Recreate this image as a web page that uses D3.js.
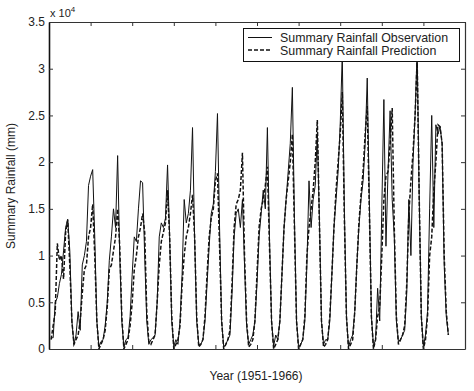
<!DOCTYPE html>
<html>
<head>
<meta charset="utf-8">
<style>
  body { margin: 0; background: #fff; }
  text { font-family: "Liberation Sans", Arial, sans-serif; fill: #222; }
</style>
</head>
<body>
<svg width="474" height="391"></svg>
<script src="https://d3js.org/d3.v7.min.js"></script>
<script>
// monthly values, units of 10^4 mm, Jan 1951 .. Dec 1966 (one row per year)
var observed = [
  0.12, 0.12, 0.50, 0.55, 0.70, 0.80, 1.05, 1.30, 1.39, 1.05, 0.30, 0.05,
  0.15, 0.40, 0.20, 0.90, 1.00, 1.15, 1.75, 1.85, 1.92, 1.20, 0.30, 0.02,
  0.08, 0.10, 0.25, 0.50, 0.95, 1.20, 1.50, 1.30, 2.07, 1.00, 0.30, 0.02,
  0.10, 0.12, 0.35, 0.80, 1.20, 1.15, 1.50, 1.80, 1.78, 1.00, 0.30, 0.05,
  0.10, 0.12, 0.15, 0.50, 1.20, 1.35, 1.30, 1.40, 1.97, 1.20, 0.30, 0.03,
  0.10, 0.05, 0.30, 0.80, 1.60, 1.35, 1.45, 1.70, 2.37, 1.20, 0.30, 0.05,
  0.05, 0.10, 0.30, 0.70, 1.10, 1.45, 1.55, 1.90, 2.52, 1.30, 0.30, 0.02,
  0.05, 0.10, 0.15, 0.60, 1.20, 1.45, 1.50, 1.30, 1.60, 0.90, 0.25, 0.05,
  0.10, 0.15, 0.30, 0.70, 1.20, 1.45, 1.70, 1.50, 2.37, 1.20, 0.30, 0.03,
  0.15, 0.10, 0.30, 0.80, 1.30, 1.60, 1.90, 2.20, 2.80, 1.40, 0.30, 0.02,
  0.05, 0.10, 0.30, 0.90, 1.80, 1.30, 1.60, 1.75, 2.30, 1.40, 0.30, 0.05,
  0.10, 0.10, 0.30, 0.80, 1.30, 1.60, 1.90, 2.40, 3.15, 1.50, 0.35, 0.02,
  0.10, 0.15, 0.40, 0.90, 1.30, 1.60, 1.80, 2.20, 2.90, 1.60, 0.35, 0.03,
  0.10, 0.65, 0.30, 1.50, 2.67, 1.10, 1.90, 2.55, 1.60, 1.20, 0.30, 0.08,
  0.10, 0.15, 0.20, 0.60, 1.60, 1.00, 2.00, 2.50, 3.20, 1.60, 0.35, 0.02,
  0.15, 0.40, 1.50, 2.50, 1.30, 2.40, 2.30, 2.38, 2.20, 0.90, 0.35, 0.15
];
var predicted = [
  0.10, 0.25, 0.40, 1.13, 0.95, 1.00, 0.75, 1.25, 1.38, 0.90, 0.30, 0.05,
  0.10, 0.15, 0.30, 0.60, 0.85, 0.90, 1.20, 1.30, 1.55, 1.00, 0.30, 0.00,
  0.05, 0.10, 0.20, 0.45, 0.85, 0.90, 1.05, 1.20, 1.50, 1.10, 0.35, 0.00,
  0.05, 0.10, 0.25, 0.50, 0.85, 1.00, 1.20, 1.30, 1.45, 1.25, 0.40, 0.08,
  0.05, 0.10, 0.15, 0.50, 0.90, 1.15, 1.25, 1.35, 1.70, 1.20, 0.35, 0.00,
  0.05, 0.10, 0.25, 0.70, 1.00, 1.20, 1.30, 1.45, 1.65, 1.20, 0.35, 0.02,
  0.05, 0.10, 0.35, 0.80, 1.20, 1.40, 1.50, 1.80, 1.88, 1.10, 0.30, 0.00,
  0.05, 0.10, 0.20, 0.70, 1.30, 1.55, 1.60, 1.70, 2.10, 1.00, 0.30, 0.02,
  0.05, 0.10, 0.30, 0.80, 1.30, 1.50, 1.60, 1.75, 1.95, 1.10, 0.30, 0.00,
  0.05, 0.10, 0.30, 0.80, 1.30, 1.60, 1.80, 2.00, 2.30, 1.30, 0.30, 0.00,
  0.05, 0.10, 0.35, 1.00, 1.30, 1.50, 1.70, 2.00, 2.45, 1.35, 0.30, 0.02,
  0.05, 0.10, 0.35, 0.80, 1.30, 1.70, 2.00, 2.30, 2.75, 1.40, 0.35, 0.00,
  0.05, 0.10, 0.40, 0.90, 1.35, 1.65, 1.90, 2.30, 2.60, 1.50, 0.35, 0.00,
  0.10, 0.35, 0.45, 1.00, 1.60, 1.85, 1.90, 2.20, 2.58, 1.30, 0.35, 0.05,
  0.10, 0.15, 0.25, 0.70, 1.45, 1.80, 2.10, 2.50, 3.10, 1.60, 0.35, 0.00,
  0.10, 0.35, 1.00, 1.20, 1.70, 2.00, 2.40, 2.38, 2.20, 1.00, 0.40, 0.15
];
var xTicks = d3.range(0, 201, 20);
var yTicks = [0, 0.5, 1, 1.5, 2, 2.5, 3, 3.5];
var yTickLabels = ["0", "0.5", "1", "1.5", "2", "2.5", "3", "3.5"];
var seriesNames = ["Summary Rainfall Observation", "Summary Rainfall Prediction"];

var svg = d3.select("svg");
svg.append("rect").attr("width", 474).attr("height", 391).attr("fill", "#fff");

var x = d3.scaleLinear().domain([0, 200]).range([49, 465]);
var y = d3.scaleLinear().domain([0, 3.5]).range([349, 22]);

var line = d3.line()
    .x(function(d, i) { return x(i + 1); })
    .y(function(d) { return y(d); });

// data lines
svg.append("path")
    .datum(observed)
    .attr("fill", "none")
    .attr("stroke", "#111")
    .attr("stroke-width", 1)
    .attr("d", line);
svg.append("path")
    .datum(predicted)
    .attr("fill", "none")
    .attr("stroke", "#111")
    .attr("stroke-width", 1.5)
    .attr("stroke-dasharray", "4,2")
    .attr("d", line);

// axes box, ticks pointing inward like matlab
function styleAxis(g) {
  g.selectAll("path").attr("stroke", "#333").attr("stroke-width", 1.2);
  g.selectAll("line").attr("stroke", "#333");
  g.selectAll("text").attr("font-family", "Liberation Sans, Arial, sans-serif")
    .attr("font-size", 12).attr("fill", "#222");
}
svg.append("g").attr("transform", "translate(0,349)")
    .call(d3.axisBottom(x).tickValues(xTicks).tickSizeInner(-4).tickSizeOuter(0).tickFormat(""))
    .call(styleAxis);
svg.append("g").attr("transform", "translate(0,22)")
    .call(d3.axisTop(x).tickValues(xTicks).tickSizeInner(-4).tickSizeOuter(0).tickFormat(""))
    .call(styleAxis);
svg.append("g").attr("transform", "translate(465,0)")
    .call(d3.axisRight(y).tickValues(yTicks).tickSizeInner(-4).tickSizeOuter(0).tickFormat(""))
    .call(styleAxis);
svg.append("g").attr("transform", "translate(49,0)")
    .call(d3.axisLeft(y).tickValues(yTicks).tickSizeInner(-4).tickSizeOuter(0).tickPadding(4)
      .tickFormat(function(d, i) { return yTickLabels[i]; }))
    .call(styleAxis)
    .select(".domain").attr("stroke", "#111").attr("stroke-width", 1.6);

// exponent label
var ex = svg.append("text").attr("x", 50).attr("y", 17).attr("font-size", 11);
ex.append("tspan").text("x 10");
ex.append("tspan").attr("dy", -5).attr("font-size", 8).text("4");

// axis titles
svg.append("text")
    .attr("x", 256).attr("y", 380)
    .attr("text-anchor", "middle")
    .attr("font-size", 12)
    .text("Year (1951-1966)");
svg.append("text")
    .attr("transform", "translate(15,186) rotate(-90)")
    .attr("text-anchor", "middle")
    .attr("font-size", 12)
    .text("Summary Rainfall (mm)");

// legend
var lg = svg.append("g");
lg.append("rect")
    .attr("x", 243.5).attr("y", 28.5).attr("width", 216).attr("height", 33)
    .attr("fill", "#fff").attr("stroke", "#111").attr("stroke-width", 1);
seriesNames.forEach(function(name, i) {
  var ly = 37.5 + i * 12.5;
  lg.append("line")
      .attr("x1", 248).attr("x2", 272).attr("y1", ly).attr("y2", ly)
      .attr("stroke", "#111")
      .attr("stroke-width", i ? 1.5 : 1)
      .attr("stroke-dasharray", i ? "4,2" : null);
  lg.append("text")
      .attr("x", 280).attr("y", ly + 4.5)
      .attr("font-size", 12.4)
      .text(name);
});
</script>
</body>
</html>
